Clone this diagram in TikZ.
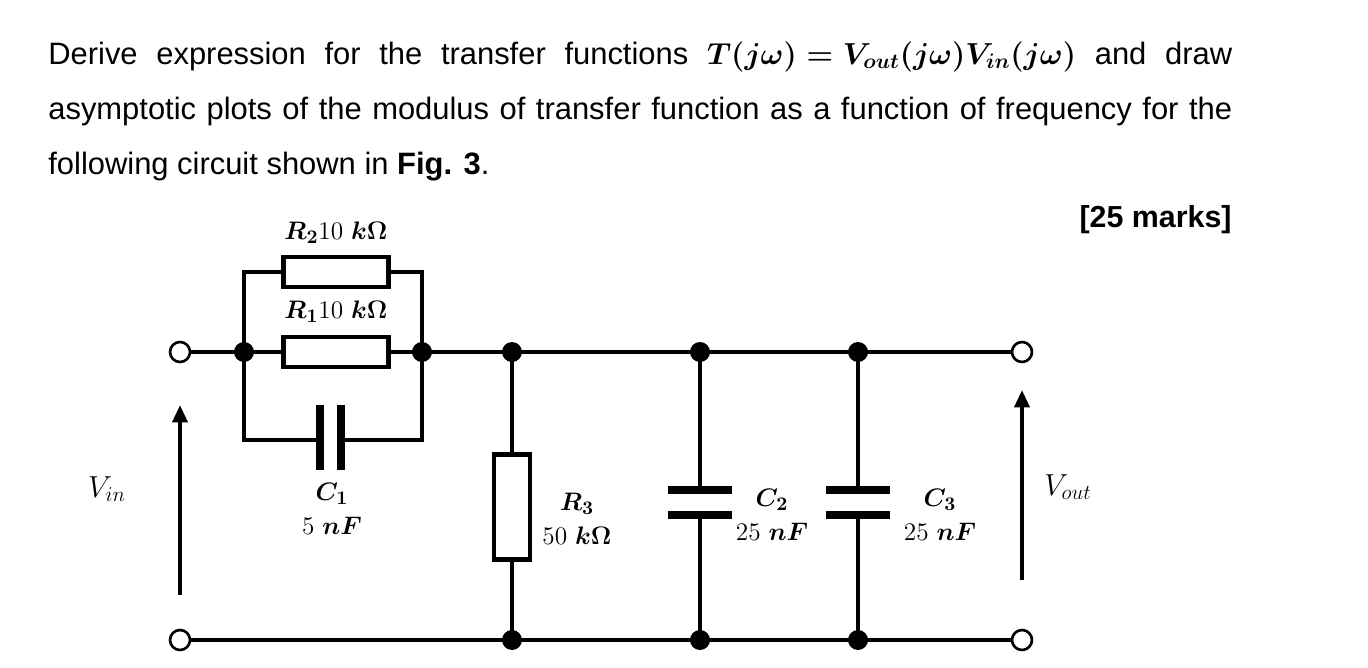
\documentclass[tikz,border=0pt]{standalone}
\usepackage{fontspec}
\usepackage{amsmath,bm}
\setsansfont{Liberation Sans}
\usetikzlibrary{arrows.meta}
\tikzset{
  wire/.style={line width=2.3pt},
  res/.style={draw, line width=2.3pt, fill=white, minimum width=2.1cm, minimum height=0.6cm},
  vres/.style={draw, line width=2.3pt, fill=white, minimum width=0.72cm, minimum height=2.1cm},
  dot/.style={circle, fill=black, inner sep=0pt, minimum size=0.4cm},
  term/.style={circle, draw, line width=1.5pt, fill=white, inner sep=0pt, minimum size=0.4cm},
  lbl/.style={font=\fontsize{15}{19}\selectfont, align=center},
  plate/.style={line width=4.5pt}
}
\begin{document}
\begin{tikzpicture}[x=0.02cm, y=-0.02cm]
  \useasboundingbox (0,0) rectangle (1368,668);
  % problem text
  \node[anchor=north west, inner sep=0pt, text width=23.68cm, align=justify, font=\sffamily\fontsize{17.6}{31.5}\selectfont] (txt) at (48,41)
    {\hyphenpenalty=10000 Derive expression for the transfer functions \mbox{\boldmath$T(j\omega)=V_{out}(j\omega)V_{in}(j\omega)$} and draw\linebreak asymptotic plots of the modulus of transfer function as a function of frequency for the\linebreak following circuit shown in \textbf{Fig. 3}.};
  \node[anchor=east, inner sep=0pt, font=\sffamily\bfseries\fontsize{17.3}{20}\selectfont] (marks) at (1232,220) {[25 marks]};

  % nodes of the circuit
  \node[term] (in1) at (180,352) {};
  \node[term] (in2) at (180,640) {};
  \node[term] (out1) at (1022,352) {};
  \node[term] (out2) at (1022,640) {};
  \coordinate (a) at (244,352);
  \coordinate (b) at (422,352);
  \coordinate (c) at (512,352);
  \coordinate (d) at (700,352);
  \coordinate (e) at (858,352);
  \coordinate (c0) at (512,640);
  \coordinate (d0) at (700,640);
  \coordinate (e0) at (858,640);

  % wires
  \draw[wire] (in1) -- (out1);
  \draw[wire] (in2) -- (out2);
  \draw[wire] (a) |- (336,272) -| (b);
  \draw[wire] (a) |- (320,440);
  \draw[wire] (340,440) -| (b);
  \draw[wire] (c) -- (c0);
  \draw[wire] (d) -- (700,490) (700,515) -- (d0);
  \draw[wire] (e) -- (858,490) (858,515) -- (e0);

  % resistors
  \node[res] (R2) at (336,272) {};
  \node[res] (R1) at (336,352) {};
  \node[vres] (R3) at (512,507) {};

  % capacitors
  \draw[plate] (320,405) -- (320,470) (341,405) -- (341,470);
  \draw[plate] (668,490) -- (732,490) (668,515) -- (732,515);
  \draw[plate] (826,490) -- (890,490) (826,515) -- (890,515);

  % junctions
  \foreach \p in {a,b,c,d,e,c0,d0,e0} \node[dot] at (\p) {};

  % voltage arrows
  \draw[line width=2.3pt, -{Triangle[length=0.35cm,width=0.3cm]}] (180,595) -- (180,405);
  \draw[line width=2.3pt, -{Triangle[length=0.35cm,width=0.3cm]}] (1022,580) -- (1022,390);

  % labels
  \node[lbl] (lR2) at (336,233) {$\bm{R_2}10\ \bm{k\Omega}$};
  \node[lbl] (lR1) at (336,312) {$\bm{R_1}10\ \bm{k\Omega}$};
  \node[lbl] (lC1) at (332,509) {$\bm{C_1}$\\$5\ \bm{nF}$};
  \node[lbl] (lR3) at (577,519) {$\bm{R_3}$\\$50\ \bm{k\Omega}$};
  \node[lbl] (lC2) at (772,515) {$\bm{C_2}$\\$25\ \bm{nF}$};
  \node[lbl] (lC3) at (940,515) {$\bm{C_3}$\\$25\ \bm{nF}$};
  \node[lbl, font=\fontsize{17}{20}\selectfont] (vin) at (107,489) {$V_{in}$};
  \node[lbl, font=\fontsize{17}{20}\selectfont] (vout) at (1068,487) {$V_{out}$};
\end{tikzpicture}
\end{document}
